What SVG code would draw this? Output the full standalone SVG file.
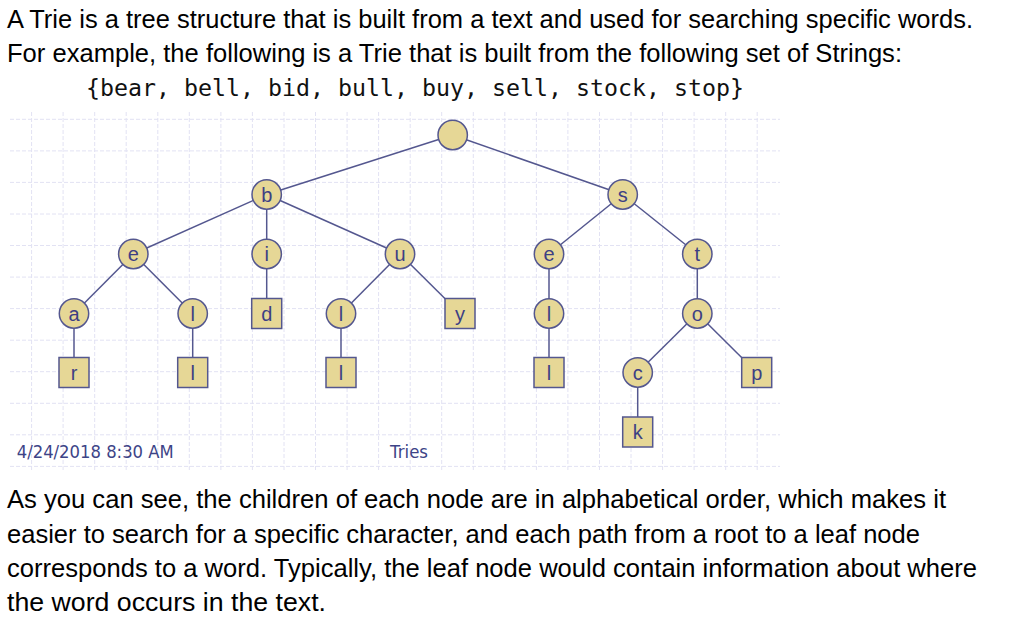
<svg xmlns="http://www.w3.org/2000/svg" width="1028" height="638" viewBox="0 0 1028 638">
<style>
.body{font-family:"Liberation Sans",Arial,sans-serif;font-size:25.5px;fill:#000}
.mono{font-family:"DejaVu Sans Mono","Liberation Mono",monospace;font-size:23.3px;fill:#111}
.grid line{stroke:#E2E2F3;stroke-width:1;stroke-dasharray:4 2}
.edges line{stroke:#54578F;stroke-width:1.5}
.n circle,.n rect{fill:#E6D796;stroke:#54578F;stroke-width:1.5}
.n text{font-family:"Liberation Sans",Arial,sans-serif;font-size:20px;fill:#3D3F84;text-anchor:middle}
.foot{font-family:"DejaVu Sans",Tahoma,sans-serif;font-size:18px;fill:#3D4487}
</style>
<rect width="1028" height="638" fill="#fff"/>
<text class="body" x="7" y="27.5" textLength="966" lengthAdjust="spacingAndGlyphs">A Trie is a tree structure that is built from a text and used for searching specific words.</text>
<text class="body" x="7" y="62" textLength="895" lengthAdjust="spacingAndGlyphs">For example, the following is a Trie that is built from the following set of Strings:</text>
<text class="mono" x="86" y="96" textLength="658" lengthAdjust="spacingAndGlyphs">{bear, bell, bid, bull, buy, sell, stock, stop}</text>
<g class="grid">
<line x1="10" y1="119.3" x2="780" y2="119.3"/>
<line x1="10" y1="150.9" x2="780" y2="150.9"/>
<line x1="10" y1="182.4" x2="780" y2="182.4"/>
<line x1="10" y1="214" x2="780" y2="214"/>
<line x1="10" y1="245.5" x2="780" y2="245.5"/>
<line x1="10" y1="277.1" x2="780" y2="277.1"/>
<line x1="10" y1="308.6" x2="780" y2="308.6"/>
<line x1="10" y1="340.2" x2="780" y2="340.2"/>
<line x1="10" y1="371.7" x2="780" y2="371.7"/>
<line x1="10" y1="403.3" x2="780" y2="403.3"/>
<line x1="10" y1="434.8" x2="780" y2="434.8"/>
<line x1="10" y1="466.4" x2="780" y2="466.4"/>
<line x1="31.6" y1="112" x2="31.6" y2="470"/>
<line x1="63.1" y1="112" x2="63.1" y2="470"/>
<line x1="94.7" y1="112" x2="94.7" y2="470"/>
<line x1="126.2" y1="112" x2="126.2" y2="470"/>
<line x1="157.8" y1="112" x2="157.8" y2="470"/>
<line x1="189.3" y1="112" x2="189.3" y2="470"/>
<line x1="220.9" y1="112" x2="220.9" y2="470"/>
<line x1="252.4" y1="112" x2="252.4" y2="470"/>
<line x1="284" y1="112" x2="284" y2="470"/>
<line x1="315.5" y1="112" x2="315.5" y2="470"/>
<line x1="347.1" y1="112" x2="347.1" y2="470"/>
<line x1="378.6" y1="112" x2="378.6" y2="470"/>
<line x1="410.2" y1="112" x2="410.2" y2="470"/>
<line x1="441.7" y1="112" x2="441.7" y2="470"/>
<line x1="473.3" y1="112" x2="473.3" y2="470"/>
<line x1="504.8" y1="112" x2="504.8" y2="470"/>
<line x1="536.4" y1="112" x2="536.4" y2="470"/>
<line x1="567.9" y1="112" x2="567.9" y2="470"/>
<line x1="599.5" y1="112" x2="599.5" y2="470"/>
<line x1="631" y1="112" x2="631" y2="470"/>
<line x1="662.6" y1="112" x2="662.6" y2="470"/>
<line x1="694.1" y1="112" x2="694.1" y2="470"/>
<line x1="725.7" y1="112" x2="725.7" y2="470"/>
<line x1="757.2" y1="112" x2="757.2" y2="470"/>
</g>
<g id="connectors" class="edges">
<line x1="452.7" y1="135" x2="266.7" y2="194.5"/>
<line x1="452.7" y1="135" x2="622.7" y2="194.5"/>
<line x1="266.7" y1="194.5" x2="133.3" y2="254"/>
<line x1="266.7" y1="194.5" x2="266.7" y2="254"/>
<line x1="266.7" y1="194.5" x2="400" y2="254"/>
<line x1="622.7" y1="194.5" x2="549" y2="254"/>
<line x1="622.7" y1="194.5" x2="697.3" y2="254"/>
<line x1="133.3" y1="254" x2="74" y2="313.5"/>
<line x1="133.3" y1="254" x2="192.7" y2="313.5"/>
<line x1="266.7" y1="254" x2="266.7" y2="313.5"/>
<line x1="400" y1="254" x2="341" y2="313.5"/>
<line x1="400" y1="254" x2="460" y2="313.5"/>
<line x1="549" y1="254" x2="549" y2="313.5"/>
<line x1="697.3" y1="254" x2="697.3" y2="313.5"/>
<line x1="74" y1="313.5" x2="74" y2="372.5"/>
<line x1="192.7" y1="313.5" x2="192.7" y2="372.5"/>
<line x1="341" y1="313.5" x2="341" y2="372.5"/>
<line x1="549" y1="313.5" x2="549" y2="372.5"/>
<line x1="697.3" y1="313.5" x2="637.7" y2="372.5"/>
<line x1="697.3" y1="313.5" x2="756.7" y2="372.5"/>
<line x1="637.7" y1="372.5" x2="637.7" y2="432"/>
</g>
<g id="root" class="n"><circle cx="452.7" cy="135" r="14.7"/></g>
<g id="b" class="n"><circle cx="266.7" cy="194.5" r="14.7"/><text x="266.7" y="201.5">b</text></g>
<g id="s" class="n"><circle cx="622.7" cy="194.5" r="14.7"/><text x="622.7" y="201.5">s</text></g>
<g id="be" class="n"><circle cx="133.3" cy="254" r="14.7"/><text x="133.3" y="261">e</text></g>
<g id="bi" class="n"><circle cx="266.7" cy="254" r="14.7"/><text x="266.7" y="261">i</text></g>
<g id="bu" class="n"><circle cx="400" cy="254" r="14.7"/><text x="400" y="261">u</text></g>
<g id="se" class="n"><circle cx="549" cy="254" r="14.7"/><text x="549" y="261">e</text></g>
<g id="st" class="n"><circle cx="697.3" cy="254" r="14.7"/><text x="697.3" y="261">t</text></g>
<g id="bea" class="n"><circle cx="74" cy="313.5" r="14.7"/><text x="74" y="320.5">a</text></g>
<g id="bel" class="n"><circle cx="192.7" cy="313.5" r="14.7"/><text x="192.7" y="320.5">l</text></g>
<g id="bid" class="n"><rect x="251.7" y="298.5" width="30" height="30"/><text x="266.7" y="320.5">d</text></g>
<g id="bul" class="n"><circle cx="341" cy="313.5" r="14.7"/><text x="341" y="320.5">l</text></g>
<g id="buy" class="n"><rect x="445" y="298.5" width="30" height="30"/><text x="460" y="320.5">y</text></g>
<g id="sel" class="n"><circle cx="549" cy="313.5" r="14.7"/><text x="549" y="320.5">l</text></g>
<g id="sto" class="n"><circle cx="697.3" cy="313.5" r="14.7"/><text x="697.3" y="320.5">o</text></g>
<g id="bear" class="n"><rect x="59" y="357.5" width="30" height="30"/><text x="74" y="379.5">r</text></g>
<g id="bell" class="n"><rect x="177.7" y="357.5" width="30" height="30"/><text x="192.7" y="379.5">l</text></g>
<g id="bull" class="n"><rect x="326" y="357.5" width="30" height="30"/><text x="341" y="379.5">l</text></g>
<g id="sell" class="n"><rect x="534" y="357.5" width="30" height="30"/><text x="549" y="379.5">l</text></g>
<g id="stoc" class="n"><circle cx="637.7" cy="372.5" r="14.7"/><text x="637.7" y="379.5">c</text></g>
<g id="stop" class="n"><rect x="741.7" y="357.5" width="30" height="30"/><text x="756.7" y="379.5">p</text></g>
<g id="stock" class="n"><rect x="622.7" y="417" width="30" height="30"/><text x="637.7" y="439">k</text></g>
<text class="foot" x="16.7" y="457.5" textLength="157" lengthAdjust="spacingAndGlyphs">4/24/2018 8:30 AM</text>
<text class="foot" x="390" y="457.5" textLength="38" lengthAdjust="spacingAndGlyphs">Tries</text>
<text class="body" x="7" y="508.3" textLength="939" lengthAdjust="spacingAndGlyphs">As you can see, the children of each node are in alphabetical order, which makes it</text>
<text class="body" x="7" y="542.5" textLength="913" lengthAdjust="spacingAndGlyphs">easier to search for a specific character, and each path from a root to a leaf node</text>
<text class="body" x="7" y="576.7" textLength="970" lengthAdjust="spacingAndGlyphs">corresponds to a word. Typically, the leaf node would contain information about where</text>
<text class="body" x="7" y="610.5" textLength="319" lengthAdjust="spacingAndGlyphs">the word occurs in the text.</text>
</svg>
